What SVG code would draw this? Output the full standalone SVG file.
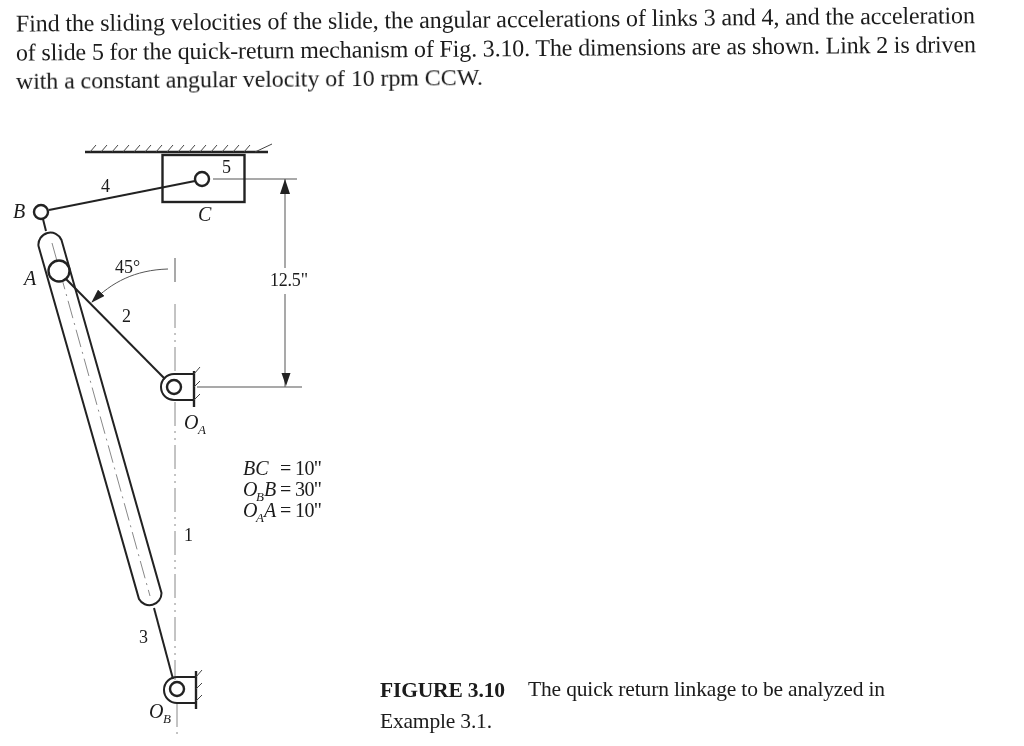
<svg xmlns="http://www.w3.org/2000/svg" width="1024" height="746" viewBox="0 0 1024 746">
<style>
text{font-family:"Liberation Serif","Times New Roman",serif;fill:#1a1a1a}
.p{font-size:24px}
.cap{font-size:21.500px}
.l{font-size:18px}
.i{font-size:20px;font-style:italic}
.d{font-size:20px}
.s{font-size:13px;font-style:italic}
.k{stroke:#222;stroke-width:2;fill:none}
.m{stroke:#222;stroke-width:2.4;fill:none}
.t{stroke:#555;stroke-width:1;fill:none}
.c{stroke:#888;stroke-width:1;fill:none;stroke-dasharray:24 5 2 5 2 5}
.h{stroke:#444;stroke-width:1;fill:none}
.j{fill:#fff;stroke:#222;stroke-width:2.4}
</style>
<defs>
<filter id="scan" x="0" y="0" width="100%" height="100%"><feGaussianBlur stdDeviation="0.45"/></filter>
<marker id="ah" markerWidth="14" markerHeight="9" refX="13" refY="4.500" orient="auto" markerUnits="userSpaceOnUse" viewBox="0 0 14 9"><path d="M0 0L14 4.500L0 9Z" fill="#222"/></marker>
</defs>
<rect width="1024" height="746" fill="#fff"/>
<g filter="url(#scan)">
<g id="problem-text">
<text class="p" x="16" y="31.500" textLength="959" transform="rotate(-0.5 16 31.500)">Find the sliding velocities of the slide, the angular accelerations of links 3 and 4, and the acceleration</text>
<text class="p" x="16" y="60.500" textLength="960" transform="rotate(-0.5 16 60.500)">of slide 5 for the quick-return mechanism of Fig. 3.10. The dimensions are as shown. Link 2 is driven</text>
<text class="p" x="16" y="89" textLength="467" transform="rotate(-0.5 16 89)">with a constant angular velocity of 10 rpm CCW.</text>
</g>
<g id="connectors">
<path class="k" d="M49 210L195 181"/>
<path class="k" d="M43 219L46 231"/>
<path class="k" d="M66 279L165 379"/>
<path class="k" d="M154 608L173 679"/>
<path class="c" d="M175 304V372M175 402V680M177 703V735"/>
<path class="t" d="M175 258V282"/>
<path class="t" d="M168 269C135 270 112 282 92 302" marker-end="url(#ah)"/>
<path class="t" d="M213 179H297M197 387H302"/>
<path class="t" d="M285 179V268M285 294V387"/>
<path d="M285 179L280 194H290ZM286 386L281.500 373H290.500Z" fill="#222"/>
<path class="c" d="M52 243L150 596" style="stroke-dasharray:18 5 2 5"/>
</g>
<g id="ground">
<path class="m" d="M85 152H268"/>
<path class="h" d="M90 152L96 145M101 152L107 145M112 152L118 145M123 152L129 145M134 152L140 145M145 152L151 145M156 152L162 145M167 152L173 145M178 152L184 145M189 152L195 145M200 152L206 145M211 152L217 145M222 152L228 145M233 152L239 145M244 152L250 145M255 152L272 144"/>
</g>
<g id="slide-5">
<rect class="m" x="162.500" y="155" width="82" height="47" fill="none"/>
<text class="l" x="222" y="173">5</text>
</g>
<g id="link-3">
<path class="k" d="M38.500 246A12 12 0 0 1 61.500 240L161.500 593A12 12 0 0 1 139 599Z" fill="none"/>
<text class="l" x="139" y="643">3</text>
</g>
<g id="pin-c"><circle class="j" cx="202" cy="179" r="7"/><text class="i" x="198" y="221">C</text></g>
<g id="pin-b"><circle class="j" cx="41" cy="212" r="7"/><text class="i" x="13" y="218">B</text></g>
<g id="pin-a"><circle class="j" cx="59" cy="271" r="10.500"/><text class="i" x="24" y="285">A</text></g>
<g id="link-4-label"><text class="l" x="101" y="192">4</text></g>
<g id="link-2-label"><text class="l" x="122" y="322">2</text></g>
<g id="link-1-label"><text class="l" x="184" y="541">1</text></g>
<g id="angle-label"><text class="l" x="115" y="273">45°</text></g>
<g id="dimension-label"><text class="l" x="270" y="286" textLength="38">12.5"</text></g>
<g id="pivot-oa">
<path class="k" d="M194 374H174A13 13 0 0 0 174 400H194"/>
<path class="m" d="M194 371V407"/>
<path class="h" d="M194 374L200 367M194 387L200 381M194 400L200 394"/>
<circle class="j" cx="174" cy="387" r="7"/>
<text class="i" x="184" y="429">O</text><text class="s" x="198" y="434">A</text>
</g>
<g id="pivot-ob">
<path class="k" d="M196 677H177A13 13 0 0 0 177 703H196"/>
<path class="m" d="M196 671V709"/>
<path class="h" d="M196 677L202 670M196 689L202 683M196 701L202 695"/>
<circle class="j" cx="177" cy="689" r="7"/>
<text class="i" x="149" y="718">O</text><text class="s" x="163" y="723">B</text>
</g>
<g id="dimensions">
<text class="d" x="243" y="475" font-style="italic">BC</text><text class="d" x="280" y="475" textLength="42">= 10"</text>
<text class="d" x="243" y="496" font-style="italic">O</text><text class="s" x="256" y="501">B</text><text class="d" x="264" y="496" font-style="italic">B</text><text class="d" x="280" y="496" textLength="42">= 30"</text>
<text class="d" x="243" y="517" font-style="italic">O</text><text class="s" x="256" y="522">A</text><text class="d" x="264" y="517" font-style="italic">A</text><text class="d" x="280" y="517" textLength="42">= 10"</text>
</g>
<g id="caption">
<text class="cap" x="380" y="697" font-weight="bold" textLength="125">FIGURE 3.10</text>
<text class="cap" x="528" y="696" textLength="357">The quick return linkage to be analyzed in</text>
<text class="cap" x="380" y="728" textLength="112">Example 3.1.</text>
</g>
</g>
</svg>
